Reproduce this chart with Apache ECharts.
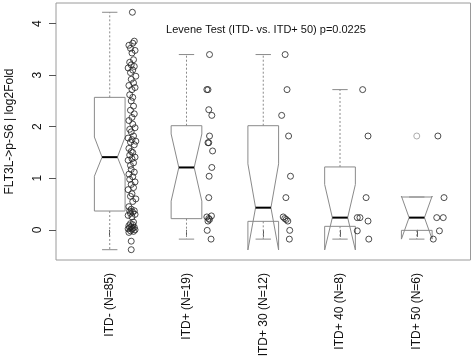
<!DOCTYPE html>
<html>
<head>
<meta charset="utf-8">
<script src="https://cdn.jsdelivr.net/npm/echarts@6/dist/echarts.min.js"></script>
<style>html,body{margin:0;padding:0;background:#fff;}#c{width:474px;height:361px;}</style>
</head>
<body>
<div id="c"></div>
<script>
// ---- data ----
const categories = ['ITD- (N=85)', 'ITD+ (N=19)', 'ITD+ 30 (N=12)', 'ITD+ 40 (N=8)', 'ITD+ 50 (N=6)'];
const yTicks = [0, 1, 2, 3, 4];
const lowerWhisker = [-0.385, -0.18, -0.18, -0.18, -0.18];
const q1 = [0.365, 0.217, 0.165, 0.068, -0.01];
const median = [1.41, 1.21, 0.43, 0.237, 0.237];
const q3 = [2.57, 2.02, 2.02, 1.22, 0.637];
const upperWhisker = [4.22, 3.40, 3.40, 2.72, 0.637];
const notchLow = [1.04, 0.557, -0.39, -0.39, -0.18];
const notchHigh = [1.80, 1.86, 1.28, 0.88, 0.654];
const outliers = [[5, 1.82]];

const values1 = [
  -0.385, -0.22, -0.05, -0.03, -0.02, 0.00, 0.01, 0.02, 0.03, 0.04, 0.05, 0.06, 0.08, 0.10, 0.12, 0.15, 0.25, 0.28, 0.30, 0.32, 0.34,
  0.365,
  0.37, 0.40, 0.45, 0.55, 0.60, 0.65, 0.70, 0.78, 0.82, 0.88, 0.93, 0.98, 1.03, 1.08, 1.12, 1.17, 1.25, 1.30, 1.35, 1.38,
  1.41,
  1.45, 1.50, 1.52, 1.58, 1.65, 1.70, 1.72, 1.75, 1.78, 1.82, 1.90, 1.95, 1.98, 2.05, 2.12, 2.18, 2.25, 2.32, 2.40, 2.50,
  2.57,
  2.62, 2.72, 2.76, 2.80, 2.85, 2.92, 2.98, 3.05, 3.10, 3.14, 3.17, 3.20, 3.25, 3.30, 3.43, 3.48, 3.52, 3.58, 3.62, 3.66, 4.22
];
const offsets1 = [
  0.28, 0.28, 0.25, 0.31, 0.27, 0.33, 0.29, 0.24, 0.30, 0.26, 0.32, 0.28, 0.25, 0.30, 0.27, 0.31, 0.29, 0.24, 0.33, 0.27, 0.30,
  0.26,
  0.32, 0.28, 0.25, 0.30, 0.34, 0.27, 0.29, 0.24, 0.31, 0.28, 0.33, 0.26, 0.30, 0.25, 0.32, 0.28, 0.27, 0.31, 0.24, 0.29,
  0.33,
  0.26, 0.30, 0.28, 0.25, 0.32, 0.27, 0.34, 0.29, 0.24, 0.31, 0.28, 0.26, 0.33, 0.30, 0.25, 0.29, 0.32, 0.27, 0.31, 0.28,
  0.30,
  0.26, 0.29, 0.33, 0.25, 0.31, 0.28, 0.34, 0.27, 0.30, 0.24, 0.32, 0.28, 0.26, 0.31, 0.29, 0.33, 0.27, 0.25, 0.30, 0.32, 0.295
];
const values2 = [3.40, 2.72, 2.72, 2.33, 2.22, 1.82, 1.69, 1.69, 1.53, 1.21, 1.04, 0.625, 0.27, 0.25, 0.22, 0.20, 0.17, -0.01, -0.18];
const offsets2 = [0.30, 0.265, 0.28, 0.29, 0.33, 0.30, 0.28, 0.29, 0.34, 0.33, 0.295, 0.29, 0.325, 0.265, 0.29, 0.30, 0.28, 0.27, 0.32];
const values3 = [3.40, 2.72, 2.22, 1.82, 1.04, 0.625, 0.25, 0.22, 0.20, 0.17, -0.01, -0.18];
const offsets3 = [0.285, 0.31, 0.24, 0.33, 0.355, 0.295, 0.26, 0.28, 0.30, 0.32, 0.345, 0.34];
const values4 = [2.72, 1.82, 0.625, 0.237, 0.237, 0.17, -0.02, -0.18];
const offsets4 = [0.295, 0.365, 0.34, 0.225, 0.26, 0.365, 0.225, 0.375];
const values5 = [1.82, 0.625, 0.237, 0.237, -0.02, -0.18];
const offsets5 = [0.275, 0.355, 0.26, 0.345, 0.295, 0.215];

const groupValues = [values1, values2, values3, values4, values5];
const groupOffsets = [offsets1, offsets2, offsets3, offsets4, offsets5];

// ---- build options ----
const boxData = categories.map((c, i) => [i + 1, lowerWhisker[i], q1[i], median[i], q3[i], upperWhisker[i], notchLow[i], notchHigh[i]]);
const pointData = [];
groupValues.forEach((vals, g) => {
  vals.forEach((v, k) => pointData.push([g + 1 + groupOffsets[g][k], v]));
});

const FONT = '"Liberation Sans", Arial, sans-serif';
const BOXCOL = '#8a8a8a';
const HALF = 0.2;

function renderBox(params, api) {
  const x = api.value(0);
  const lw = api.value(1), a = api.value(2), m = api.value(3), b = api.value(4), uw = api.value(5);
  const cL = api.value(6), cH = api.value(7);
  const P = (dx, y) => api.coord([x + dx, y]);
  const w = HALF;
  const poly = [P(-w, a), P(w, a), P(w, cL), P(w / 2, m), P(w, cH), P(w, b), P(-w, b), P(-w, cH), P(-w / 2, m), P(-w, cL)];
  const children = [];
  const dashStyle = {stroke: BOXCOL, lineWidth: 1, lineDash: [2, 2]};
  const solid = {stroke: BOXCOL, lineWidth: 1};
  if (uw > b) {
    children.push({type: 'line', shape: {x1: P(0, b)[0], y1: P(0, b)[1], x2: P(0, uw)[0], y2: P(0, uw)[1]}, style: dashStyle});
  }
  if (lw < a) {
    children.push({type: 'line', shape: {x1: P(0, a)[0], y1: P(0, a)[1], x2: P(0, lw)[0], y2: P(0, lw)[1]}, style: dashStyle});
  }
  children.push({type: 'line', shape: {x1: P(-w / 2, uw)[0], y1: P(0, uw)[1], x2: P(w / 2, uw)[0], y2: P(0, uw)[1]}, style: solid});
  children.push({type: 'line', shape: {x1: P(-w / 2, lw)[0], y1: P(0, lw)[1], x2: P(w / 2, lw)[0], y2: P(0, lw)[1]}, style: solid});
  children.push({type: 'polygon', shape: {points: poly}, style: {fill: 'none', stroke: BOXCOL, lineWidth: 1}});
  children.push({type: 'line', shape: {x1: P(-w / 2, m)[0], y1: P(0, m)[1], x2: P(w / 2, m)[0], y2: P(0, m)[1]}, style: {stroke: '#000', lineWidth: 2}});
  return {type: 'group', children: children};
}

const chart = echarts.init(document.getElementById('c'), null, {renderer: 'canvas'});
chart.setOption({
  animation: false,
  backgroundColor: '#fff',
  title: {
    text: 'Levene Test (ITD- vs. ITD+ 50) p=0.0225',
    left: 261, top: 19, textAlign: 'center',
    textStyle: {fontFamily: FONT, fontSize: 11, fontWeight: 'normal', color: '#111'}
  },
  grid: {left: 56, top: 3, width: 414.5, height: 257, show: true, borderColor: '#9a9a9a', borderWidth: 1,
    backgroundColor: 'transparent', containLabel: false, outerBoundsMode: 'none'},
  xAxis: {
    type: 'value', min: 0.3, max: 5.7,
    splitLine: {show: false},
    axisLine: {show: false},
    axisTick: {show: true, length: 7, lineStyle: {color: '#555'}, customValues: [1, 2, 3, 4, 5]},
    axisLabel: {
      rotate: 90, margin: 13, fontFamily: FONT, fontSize: 12, color: '#111',
      customValues: [1, 2, 3, 4, 5],
      formatter: v => categories[Math.round(v) - 1] || ''
    }
  },
  yAxis: {
    type: 'value', min: -0.585, max: 4.40,
    name: 'FLT3L->p-S6 | log2Fold', nameLocation: 'middle', nameGap: 40, nameRotate: 90,
    nameTextStyle: {fontFamily: FONT, fontSize: 12, color: '#111'},
    splitLine: {show: false},
    axisLine: {show: false},
    axisTick: {show: true, length: 7, lineStyle: {color: '#555'}, customValues: yTicks},
    axisLabel: {rotate: 90, margin: 12, fontFamily: FONT, fontSize: 12, color: '#111', customValues: yTicks}
  },
  series: [
    {type: 'custom', renderItem: renderBox, data: boxData, encode: {x: 0, y: [1, 5]}, clip: false, z: 2},
    {type: 'scatter', data: outliers, symbol: 'circle', symbolSize: 6,
      itemStyle: {color: 'rgba(0,0,0,0)', borderColor: '#9a9a9a', borderWidth: 1}, z: 3},
    {type: 'scatter', data: pointData, symbol: 'circle', symbolSize: 6,
      itemStyle: {color: 'rgba(0,0,0,0)', borderColor: '#222', borderWidth: 1}, z: 4}
  ]
});
</script>
</body>
</html>
